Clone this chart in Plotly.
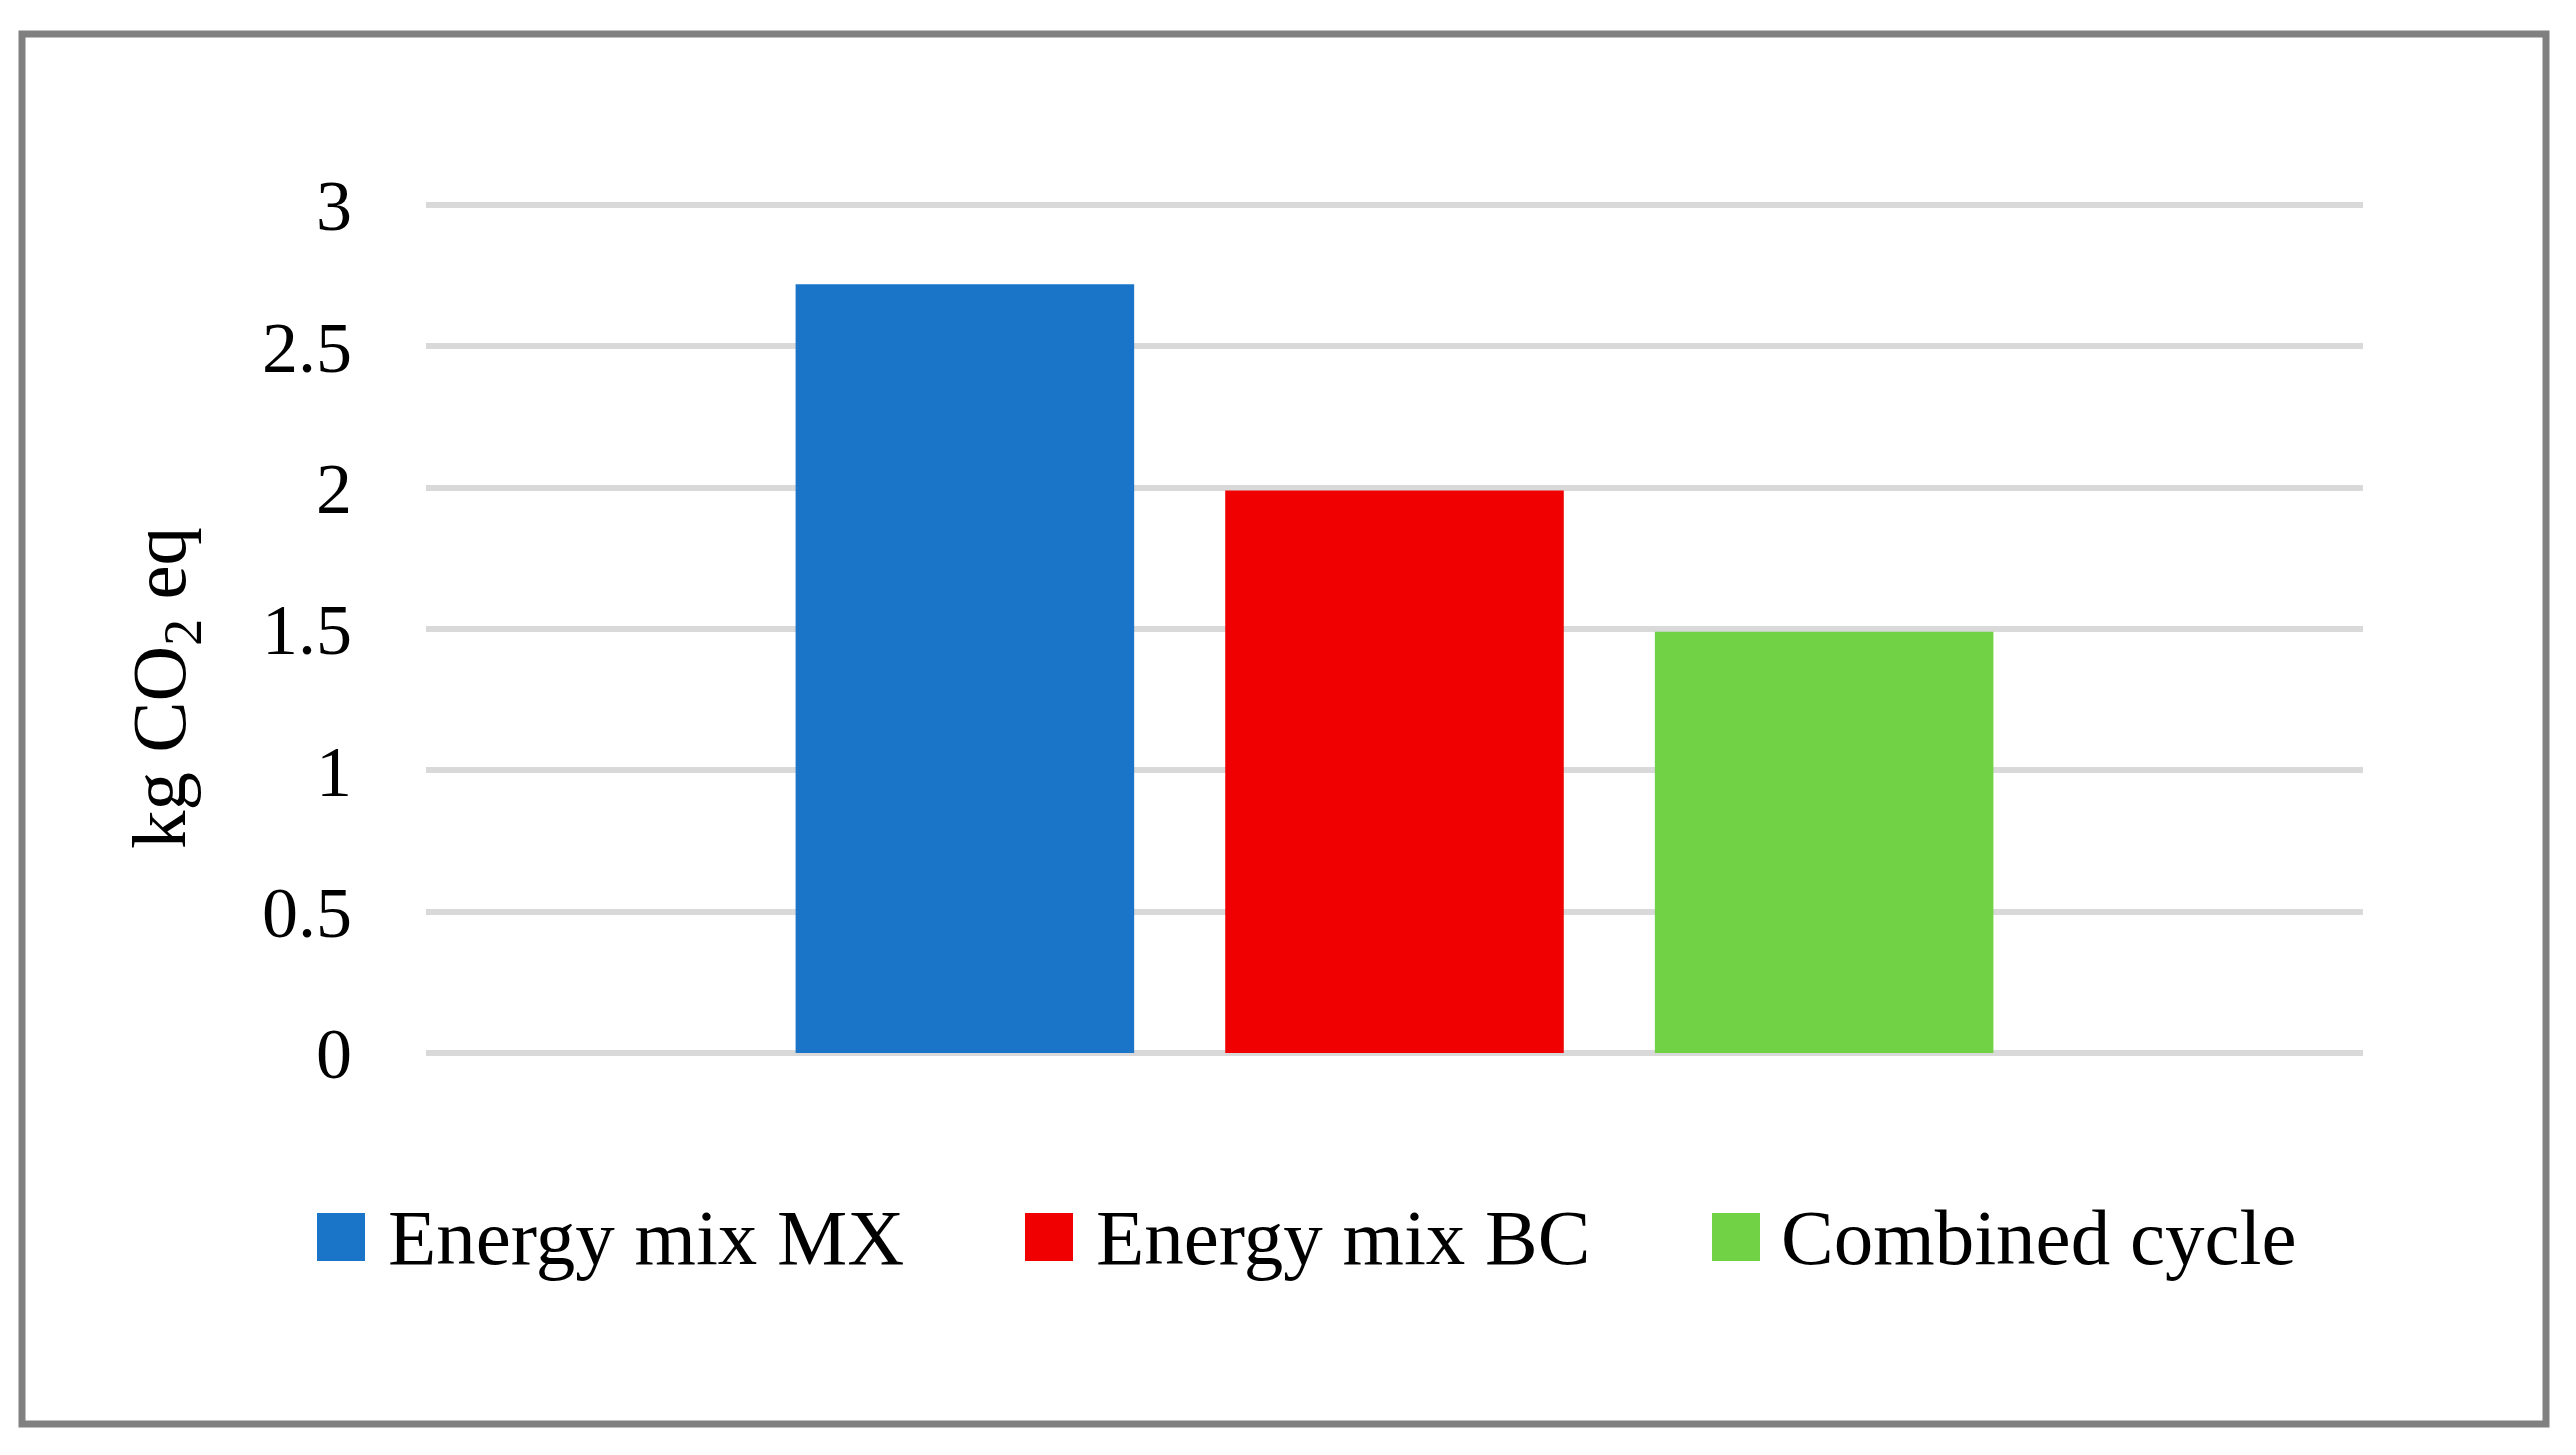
import plotly.graph_objects as go

# ---- data ----
category = ["Scenario"]
series_names = ["Energy mix MX", "Energy mix BC", "Combined cycle"]
series_values = [2.72, 1.99, 1.49]
series_colors = ["#1a74c7", "#f00000", "#70d244"]
y_ticks = [0, 0.5, 1, 1.5, 2, 2.5, 3]
y_tick_labels = ["0", "0.5", "1", "1.5", "2", "2.5", "3"]
y_title = "kg CO<sub>2</sub> eq"

W, H = 2576, 1455
L, R, T, B = 426, 2363, 201, 1053   # plot area in px
unit = 282.67                        # px per 1.0 on the y axis
y_top = (B - T) / unit               # slightly above 3 so the top gridline is kept
pw, ph = R - L, B - T

def px_x(x):
    return (x - L) / pw

def px_y(y):
    return (B - y) / ph

FONT = "Liberation Serif"

fig = go.Figure()
for name, val, col in zip(series_names, series_values, series_colors):
    fig.add_trace(go.Bar(
        x=category, y=[val], name=name, showlegend=False,
        marker=dict(color=col, line=dict(width=0)),
    ))

# legend drawn as squares + labels (layout positions in px)
legend_square_x = [317, 1025, 1712]
legend_text_x = [386, 1094, 1779]
legend_yc = 1237
sq = 48
shapes = [dict(type="rect", xref="paper", yref="paper",
               x0=px_x(22), x1=px_x(2546), y0=px_y(1424), y1=px_y(34),
               line=dict(color="#808080", width=7), fillcolor="rgba(0,0,0,0)",
               layer="below")]
annotations = [dict(text=y_title, xref="paper", yref="paper",
                    x=px_x(164), y=px_y(688), xanchor="center", yanchor="middle",
                    textangle=-90, showarrow=False,
                    font=dict(family=FONT, size=77, color="black"))]
for name, col, sx, tx in zip(series_names, series_colors, legend_square_x, legend_text_x):
    shapes.append(dict(type="rect", xref="paper", yref="paper",
                       x0=px_x(sx), x1=px_x(sx + sq),
                       y0=px_y(legend_yc + sq / 2), y1=px_y(legend_yc - sq / 2),
                       line=dict(width=0), fillcolor=col))
    annotations.append(dict(text=name, xref="paper", yref="paper",
                            x=px_x(tx), y=px_y(legend_yc), xanchor="left",
                            yanchor="middle", showarrow=False,
                            font=dict(family=FONT, size=79, color="black")))

fig.update_layout(
    width=W, height=H,
    margin=dict(l=L, r=W - R, t=T, b=H - B, pad=0),
    paper_bgcolor="white", plot_bgcolor="white",
    barmode="group", bargap=0.3346, bargroupgap=0.212,
    font=dict(family=FONT, size=72, color="black"),
    showlegend=False,
    xaxis=dict(showticklabels=False, showgrid=False, zeroline=False,
               showline=False, ticks=""),
    yaxis=dict(range=[0, y_top], tickvals=y_ticks, ticktext=y_tick_labels,
               showgrid=True, gridcolor="#d9d9d9", gridwidth=6,
               zeroline=True, zerolinecolor="#d9d9d9", zerolinewidth=6,
               showline=False, ticks="", ticklabelstandoff=73,
               tickfont=dict(family=FONT, size=72, color="black")),
    shapes=shapes,
    annotations=annotations,
)

fig.write_html("out.html", config={"staticPlot": True})
